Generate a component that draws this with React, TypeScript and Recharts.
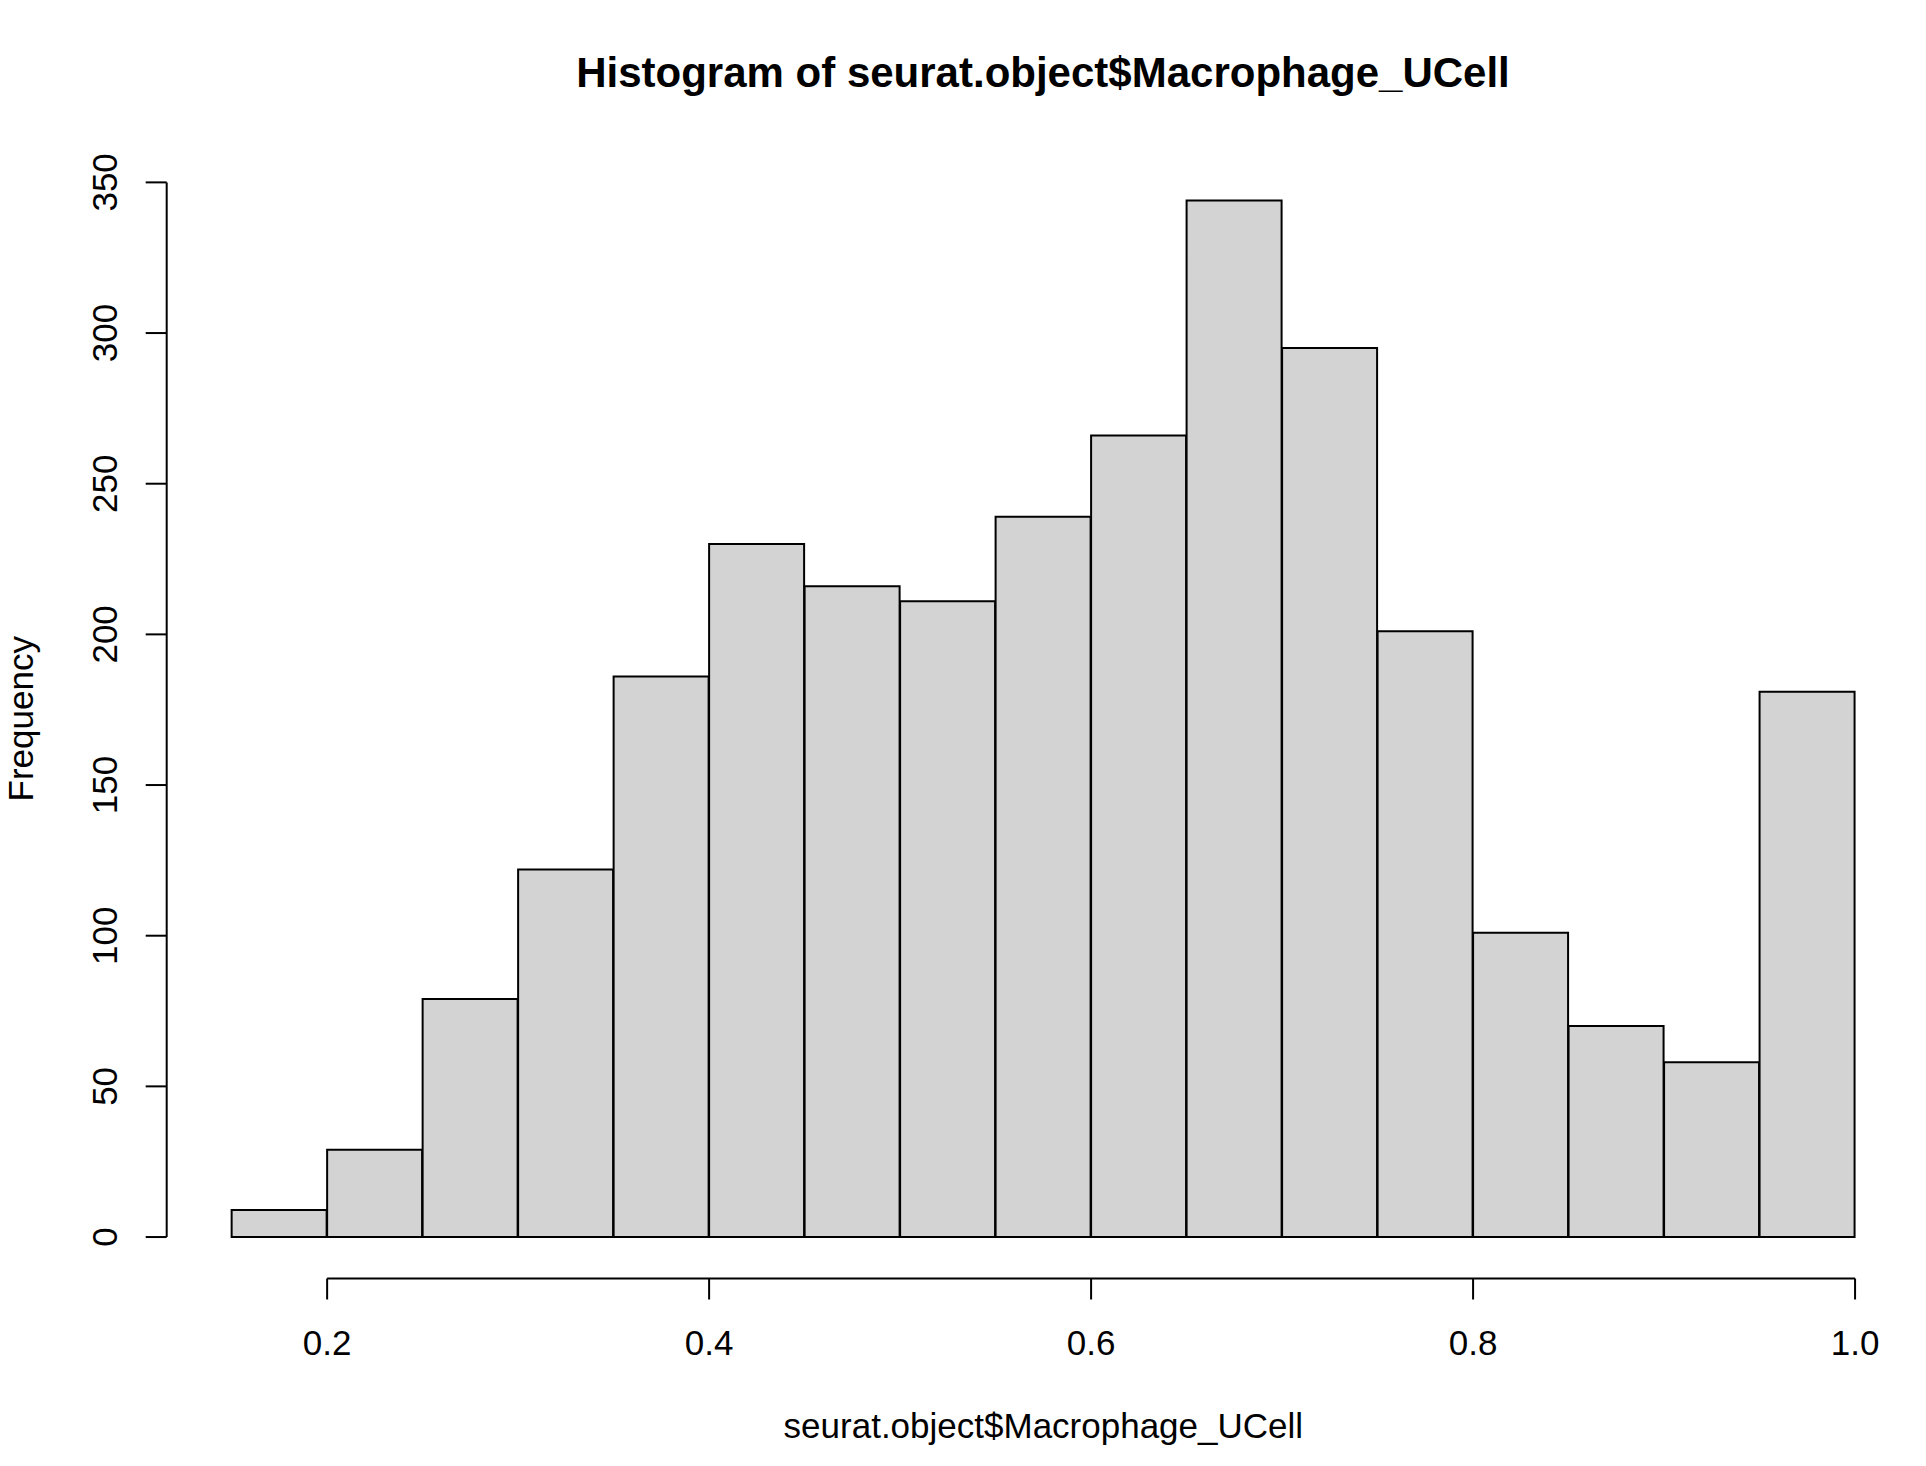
import React from "react";
import { BarChart, Bar, XAxis, YAxis, ReferenceLine, Label } from "recharts";

// histogram bins (left edges) and counts
const binStarts = [0.15, 0.2, 0.25, 0.3, 0.35, 0.4, 0.45, 0.5, 0.55, 0.6, 0.65, 0.7, 0.75, 0.8, 0.85, 0.9, 0.95];
const binWidth = 0.05;
const counts = [9, 29, 79, 122, 186, 230, 216, 211, 239, 266, 344, 295, 201, 101, 70, 58, 181];

const xTicks = [0.2, 0.4, 0.6, 0.8, 1.0];
const yTicks = [0, 50, 100, 150, 200, 250, 300, 350];

const title = "Histogram of seurat.object$Macrophage_UCell";
const xLabel = "seurat.object$Macrophage_UCell";
const yLabel = "Frequency";

// R extends the data range by 4% on each side
const X_DOMAIN = [0.116, 1.034];
const Y_DOMAIN = [-13.76, 357.76];

const FONT = "'Liberation Sans', Arial, Helvetica, sans-serif";

const data = binStarts.map((s, i) => ({ mid: s + binWidth / 2, count: counts[i] }));

const XTick = ({ x, y, payload }: any) => (
  <text x={x} y={y + 55.5} textAnchor="middle" fontSize={35} fontFamily={FONT} fill="#000">
    {Number(payload.value).toFixed(1)}
  </text>
);

const YTick = ({ x, y, payload }: any) => {
  const bx = x - 28.7;
  return (
    <text
      x={bx}
      y={y}
      transform={`rotate(-90, ${bx}, ${y})`}
      textAnchor="middle"
      fontSize={35}
      fontFamily={FONT}
      fill="#000"
    >
      {payload.value}
    </text>
  );
};

export default function App() {
  return (
    <div style={{ position: "absolute", left: 0, top: 0, width: 1926, height: 1466, background: "#fff" }}>
      <svg width={1926} height={120} style={{ position: "absolute", left: 0, top: 0 }}>
        <text x={1043} y={87} textAnchor="middle" fontSize={42} fontWeight="bold" fontFamily={FONT} fill="#000">
          {title}
        </text>
      </svg>
      <BarChart
        width={1926}
        height={1466}
        data={data}
        margin={{ top: 159, right: 6, left: 0, bottom: 0 }}
        barCategoryGap={0}
        barGap={0}
      >
        <XAxis
          dataKey="mid"
          type="number"
          domain={X_DOMAIN}
          allowDataOverflow
          ticks={xTicks}
          height={187.5}
          axisLine={false}
          tickLine={{ stroke: "#000", strokeWidth: 2 }}
          tickSize={21}
          tickMargin={0}
          tick={<XTick />}
          interval={0}
        >
          <Label
            content={({ viewBox }: any) => (
              <text
                x={viewBox.x + viewBox.width / 2}
                y={1438}
                textAnchor="middle"
                fontSize={35}
                fontFamily={FONT}
                fill="#000"
              >
                {xLabel}
              </text>
            )}
          />
        </XAxis>
        <YAxis
          type="number"
          domain={Y_DOMAIN}
          allowDataOverflow
          ticks={yTicks}
          width={166.7}
          axisLine={false}
          tickLine={{ stroke: "#000", strokeWidth: 2 }}
          tickSize={21}
          tickMargin={0}
          tick={<YTick />}
          interval={0}
        >
          <Label
            content={({ viewBox }: any) => {
              const cy = viewBox.y + viewBox.height / 2;
              return (
                <text
                  x={33}
                  y={cy}
                  transform={`rotate(-90, 33, ${cy})`}
                  textAnchor="middle"
                  fontSize={35}
                  fontFamily={FONT}
                  fill="#000"
                >
                  {yLabel}
                </text>
              );
            }}
          />
        </YAxis>
        <Bar dataKey="count" fill="#d3d3d3" stroke="#000" strokeWidth={2} isAnimationActive={false} />
        <ReferenceLine
          segment={[
            { x: xTicks[0], y: Y_DOMAIN[0] },
            { x: xTicks[xTicks.length - 1], y: Y_DOMAIN[0] },
          ]}
          stroke="#000"
          strokeWidth={2}
          ifOverflow="visible"
        />
        <ReferenceLine
          segment={[
            { x: X_DOMAIN[0], y: yTicks[0] },
            { x: X_DOMAIN[0], y: yTicks[yTicks.length - 1] },
          ]}
          stroke="#000"
          strokeWidth={2}
          ifOverflow="visible"
        />
      </BarChart>
    </div>
  );
}
